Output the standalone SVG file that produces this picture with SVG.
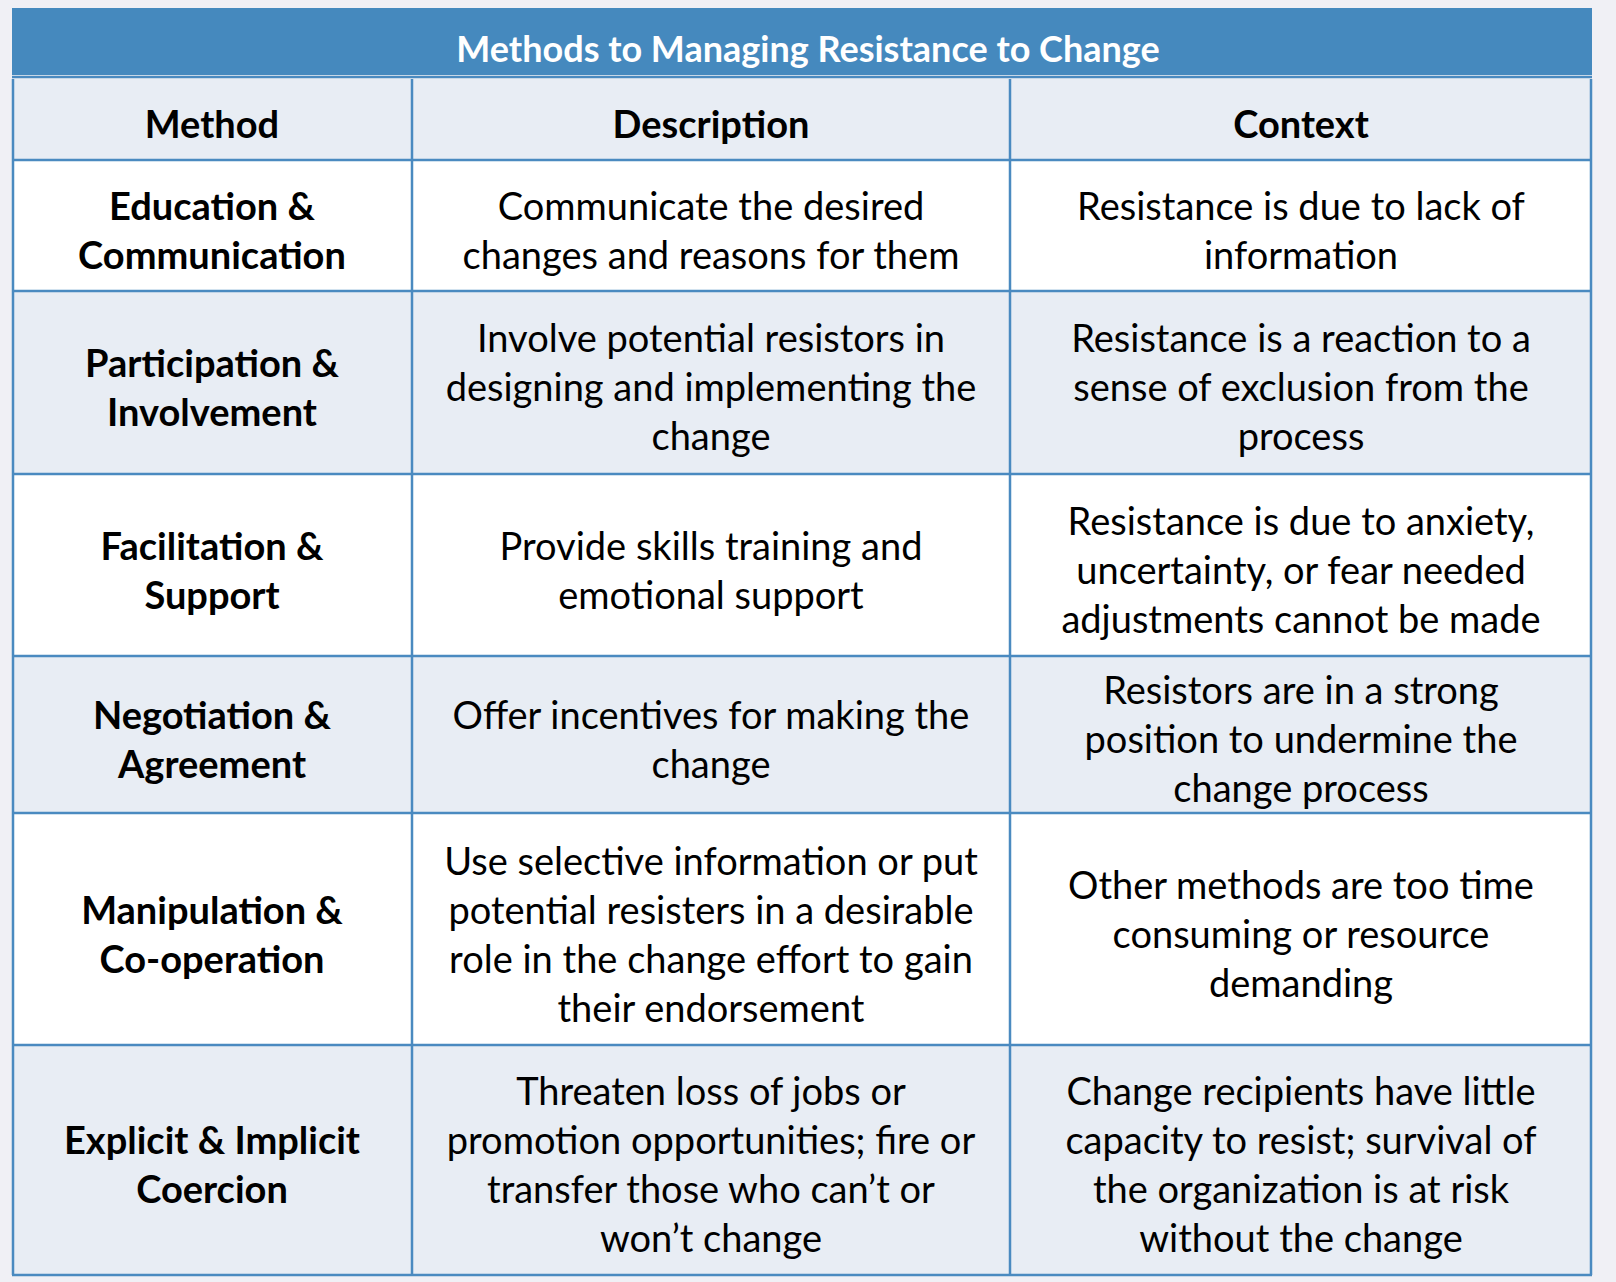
<svg xmlns="http://www.w3.org/2000/svg" width="1616" height="1282" viewBox="0 0 1616 1282">
<style>
text{font-family:Lato,"Open Sans",sans-serif;font-size:38px;fill:#000;text-anchor:middle}
.b{font-weight:bold}
.t{font-weight:bold;fill:#fff;font-size:36px}
.alt{fill:#E8EDF4}
.w{fill:#fff}
.ln{stroke:#4A8AC0;stroke-width:2.5;fill:none}
</style>
<rect width="1616" height="1282" fill="#F0F0F5"/>
<g id="title"><rect x="12" y="8" width="1580" height="67" fill="#4589BE"/><text class="t" x="808" y="62">Methods to Managing Resistance to Change</text></g>
<g id="rows">
<rect class="alt" x="12" y="79" width="1580" height="81"/>
<rect class="w" x="12" y="160" width="1580" height="131"/>
<rect class="alt" x="12" y="291" width="1580" height="183"/>
<rect class="w" x="12" y="474" width="1580" height="182"/>
<rect class="alt" x="12" y="656" width="1580" height="157"/>
<rect class="w" x="12" y="813" width="1580" height="232"/>
<rect class="alt" x="12" y="1045" width="1580" height="230"/>
</g>
<g id="grid">
<path class="ln" d="M12 77H1592M12 160H1592M12 291H1592M12 474H1592M12 656H1592M12 813H1592M12 1045H1592M12 1275H1592M412 79V1275M1010 79V1275M13 79V1275M1591 79V1275"/>
</g>
<g id="header"><text class="b" x="212" y="138">Method</text><text class="b" x="711" y="138">Description</text><text class="b" x="1301" y="138">Context</text></g>
<g id="r1"><text class="b" x="212" y="220">Education &amp;</text><text class="b" x="212" y="269">Communication</text>
<text x="711" y="220">Communicate the desired</text><text x="711" y="269">changes and reasons for them</text>
<text x="1301" y="220">Resistance is due to lack of</text><text x="1301" y="269">information</text></g>
<g id="r2"><text class="b" x="212" y="377">Participation &amp;</text><text class="b" x="212" y="426">Involvement</text>
<text x="711" y="352">Involve potential resistors in</text><text x="711" y="401">designing and implementing the</text><text x="711" y="450">change</text>
<text x="1301" y="352">Resistance is a reaction to a</text><text x="1301" y="401">sense of exclusion from the</text><text x="1301" y="450">process</text></g>
<g id="r3"><text class="b" x="212" y="560">Facilitation &amp;</text><text class="b" x="212" y="609">Support</text>
<text x="711" y="560">Provide skills training and</text><text x="711" y="609">emotional support</text>
<text x="1301" y="535">Resistance is due to anxiety,</text><text x="1301" y="584">uncertainty, or fear needed</text><text x="1301" y="633">adjustments cannot be made</text></g>
<g id="r4"><text class="b" x="212" y="729">Negotiation &amp;</text><text class="b" x="212" y="778">Agreement</text>
<text x="711" y="729">Offer incentives for making the</text><text x="711" y="778">change</text>
<text x="1301" y="704">Resistors are in a strong</text><text x="1301" y="753">position to undermine the</text><text x="1301" y="802">change process</text></g>
<g id="r5"><text class="b" x="212" y="924">Manipulation &amp;</text><text class="b" x="212" y="973">Co-operation</text>
<text x="711" y="875">Use selective information or put</text><text x="711" y="924">potential resisters in a desirable</text><text x="711" y="973">role in the change effort to gain</text><text x="711" y="1022">their endorsement</text>
<text x="1301" y="899">Other methods are too time</text><text x="1301" y="948">consuming or resource</text><text x="1301" y="997">demanding</text></g>
<g id="r6"><text class="b" x="212" y="1154">Explicit &amp; Implicit</text><text class="b" x="212" y="1203">Coercion</text>
<text x="711" y="1105">Threaten loss of jobs or</text><text x="711" y="1154">promotion opportunities; fire or</text><text x="711" y="1203">transfer those who can’t or</text><text x="711" y="1252">won’t change</text>
<text x="1301" y="1105">Change recipients have little</text><text x="1301" y="1154">capacity to resist; survival of</text><text x="1301" y="1203">the organization is at risk</text><text x="1301" y="1252">without the change</text></g>
</svg>
